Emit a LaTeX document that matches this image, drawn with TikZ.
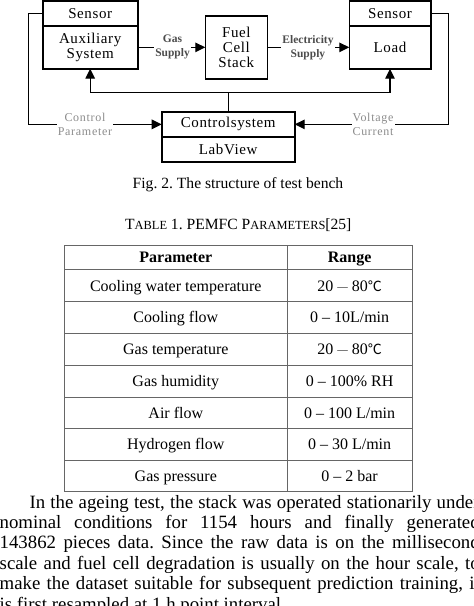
\documentclass[tikz,border=0pt]{standalone}
\usepackage{fontspec}
\setmainfont{Liberation Serif}
\newfontfamily\cjk{Noto Sans CJK SC}
\newfontfamily\diag[LetterSpace=4]{Liberation Serif}
\newfontfamily\diaglab[LetterSpace=6]{Liberation Serif}
\usetikzlibrary{arrows.meta}
\newcommand\fs[2]{\fontsize{#1}{#2}\selectfont}
\newcommand\degC{{\cjk\fs{14}{16}℃}}
\newcommand\smc[1]{{\fs{12.4}{14}#1}}
\newcommand\bigdash{\raisebox{0.8pt}{\fs{10.5}{12}—}}
\frenchspacing
\begin{document}
\begin{tikzpicture}[x=1pt,y=-1pt,
  box/.style={draw, line width=1.6pt, inner sep=0pt, outer sep=0pt, align=center, font=\diag\fs{15}{14.3}},
  conn/.style={line width=1.3pt},
  arr/.style={conn, -{Triangle[length=10pt,width=9.5pt]}},
  glab/.style={fill=white, inner sep=1pt, align=center, text=black!70, font=\fs{11.5}{14}\bfseries},
  flab/.style={fill=white, inner sep=1pt, align=center, text=black!45, font=\diaglab\fs{12}{14.4}},
  tline/.style={draw=black!60, line width=0.9pt},
  tcell/.style={font=\fs{16}{18}, inner sep=0pt, anchor=base},
  thead/.style={font=\fs{16}{18}\bfseries, inner sep=0pt, anchor=base},
  para/.style={font=\fs{18.8}{19.6}, inner sep=0pt, anchor=base west}
]
\useasboundingbox (0,0) rectangle (474,606);
\clip (0,0) rectangle (474,606);
\fill[white] (0,0) rectangle (474,606);

% ---- diagram boxes
\node[box, minimum width=95pt, minimum height=25pt] (sensorL) at (90.2,13.5) {Sensor};
\node[box, minimum width=95pt, minimum height=42.7pt] (auxL) at (90.2,47.35) {Auxiliary\\System};
\node[box, minimum width=62pt, minimum height=63.3pt] (fuel) at (236.3,47.35) {Fuel\\[0.8pt]Cell\\[0.8pt]Stack};
\node[box, minimum width=81.4pt, minimum height=25pt] (sensorR) at (390,13.5) {Sensor};
\node[box, minimum width=81.4pt, minimum height=42.7pt] (load) at (390,47.35) {Load};
\node[box, minimum width=133pt, minimum height=24.7pt] (ctrl) at (228.2,124.35) {Controlsystem};
\node[box, minimum width=133pt, minimum height=25pt] (lab) at (228.2,149.2) {LabView};

% ---- connectors
\draw[arr] (auxL.east) -- node[glab, pos=0.515] {Gas\\Supply} (fuel.west);
\draw[arr] (fuel.east) -- node[glab, pos=0.496] {Electricity\\Supply} (load.west);

\coordinate (cl) at (28.3,124.35);
\coordinate (cr) at (448.3,124.35);
\draw[arr] (sensorL.west) -| (cl) -- node[flab, pos=0.425] {Control\\Parameter} (ctrl.west);
\draw[arr] (sensorR.east) -| (cr) -- node[flab, pos=0.49] {Voltage\\Current} (ctrl.east);

\coordinate (j) at (228.2,92.7);
\draw[conn] (ctrl.north) -- (j);
\draw[arr] (j) -| (auxL.south);
\draw[arr] (j) -| (load.south);

% ---- captions
\node[inner sep=0pt, font=\fs{15.6}{18}] (cap) at (238,185) {Fig. 2. The structure of test bench};
\node[inner sep=0pt, font=\fs{15.6}{18}] (ttl) at (238.3,225) {T\smc{ABLE} 1. PEMFC P\smc{ARAMETERS}[25]};

% ---- table
\draw[tline] (64.3,245) rectangle (412,491);
\draw[tline] (287.3,245) -- (287.3,491);
\foreach \yy in {269,301,333,365,397,428,460}
  \draw[tline] (64.3,\yy) -- (412,\yy);

\node[thead] (h1) at (175.8,262.5) {Parameter};
\node[thead] (h2) at (349.6,262.5) {Range};

\node[tcell] (a1) at (175.8,291) {Cooling water temperature};
\node[tcell] (b1) at (349.6,291) {20 \bigdash{} 80\degC};
\node[tcell] (a2) at (175.8,322.5) {Cooling flow};
\node[tcell] (b2) at (349.6,322.5) {0 – 10L/min};
\node[tcell] (a3) at (175.8,354.5) {Gas temperature};
\node[tcell] (b3) at (349.6,354.5) {20 \bigdash{} 80\degC};
\node[tcell] (a4) at (175.8,386.5) {Gas humidity};
\node[tcell] (b4) at (349.6,386.5) {0 – 100\% RH};
\node[tcell] (a5) at (175.8,418) {Air flow};
\node[tcell] (b5) at (349.6,418) {0 – 100 L/min};
\node[tcell] (a6) at (175.8,449.5) {Hydrogen flow};
\node[tcell] (b6) at (349.6,449.5) {0 – 30 L/min};
\node[tcell] (a7) at (175.8,481) {Gas pressure};
\node[tcell] (b7) at (349.6,481) {0 – 2 bar};

% ---- paragraph
\node[para] (p1) at (29.3,508.5) {\makebox[450pt][s]{In the ageing test, the stack was operated stationarily under}};
\node[para] (p2) at (-0.5,528.6) {\makebox[480pt][s]{nominal conditions for 1154 hours and finally generated}};
\node[para] (p3) at (-0.5,548.8) {\makebox[480pt][s]{143862 pieces data. Since the raw data is on the millisecond}};
\node[para] (p4) at (-0.5,569.2) {\makebox[480pt][s]{scale and fuel cell degradation is usually on the hour scale, to}};
\node[para] (p5) at (-0.5,589.8) {\makebox[480pt][s]{make the dataset suitable for subsequent prediction training, it}};
\node[para] (p6) at (-0.5,610.5) {is first resampled at 1 h point interval};
\end{tikzpicture}
\end{document}
